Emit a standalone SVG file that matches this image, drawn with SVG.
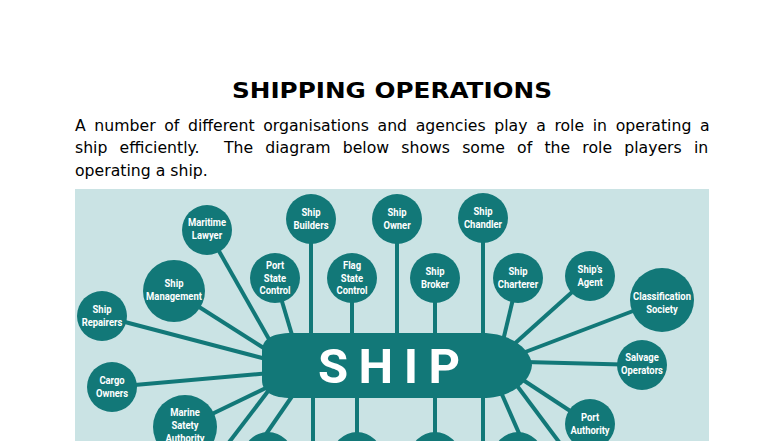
<svg xmlns="http://www.w3.org/2000/svg" width="784" height="441" viewBox="0 0 784 441">
<style>
.title{font-family:"DejaVu Sans",Verdana,sans-serif;font-weight:700;font-size:22px;fill:#000}
.para{font-family:"DejaVu Sans",Verdana,sans-serif;font-size:15.7px;fill:#000}
.node circle{fill:#127878}
.lbl{font-family:Roboto,"Liberation Sans",sans-serif;font-weight:700;font-size:11.5px;fill:#fff;text-anchor:middle}
#connectors line{stroke:#127878;stroke-width:4}
.hull{fill:#127878}
.shiptxt{font-family:Roboto,"Open Sans",sans-serif;font-weight:700;font-size:49px;fill:#fff}
</style>
<rect width="784" height="441" fill="#fff"/>
<text class="title" x="232" y="98" textLength="320" lengthAdjust="spacingAndGlyphs">SHIPPING OPERATIONS</text>
<text class="para" x="75" y="131" word-spacing="3.65">A number of different organisations and agencies play a role in operating a</text>
<text class="para" x="75" y="153" word-spacing="7.2" xml:space="preserve">ship efficiently.  The diagram below shows some of the role players in</text>
<text class="para" x="75" y="176">operating a ship.</text>
<rect x="75" y="189" width="634" height="260" fill="#cae3e4"/>
<g id="connectors">
<line x1="311" y1="219" x2="311" y2="345"/>
<line x1="352" y1="278" x2="352" y2="345"/>
<line x1="397" y1="219" x2="397" y2="345"/>
<line x1="435" y1="278" x2="435" y2="345"/>
<line x1="483" y1="218" x2="483" y2="345"/>
<line x1="207" y1="230" x2="274" y2="348"/>
<line x1="275" y1="278" x2="295" y2="345"/>
<line x1="174" y1="291" x2="270" y2="352"/>
<line x1="102" y1="316" x2="270" y2="360"/>
<line x1="112" y1="387" x2="270" y2="373"/>
<line x1="185" y1="427" x2="272" y2="385"/>
<line x1="272" y1="386" x2="214" y2="462"/>
<line x1="295" y1="392" x2="262" y2="440"/>
<line x1="313" y1="390" x2="313" y2="450"/>
<line x1="357" y1="390" x2="357" y2="457"/>
<line x1="435" y1="390" x2="435" y2="457"/>
<line x1="483" y1="390" x2="483" y2="450"/>
<line x1="500" y1="390" x2="522" y2="440"/>
<line x1="515" y1="383" x2="565" y2="450"/>
<line x1="590" y1="424" x2="520" y2="378"/>
<line x1="642" y1="365" x2="525" y2="362"/>
<line x1="662" y1="300" x2="520" y2="354"/>
<line x1="590" y1="276" x2="512" y2="346"/>
<line x1="518" y1="278" x2="502" y2="345"/>
</g>
<g id="ship">
<path class="hull" d="M292 333 H482 C512 333 531 350 532 365 C531 381 512 398 482 398 H292 C272 398 262 392 262 380 V351 C262 339 272 333 292 333 Z"/>
<text class="shiptxt" x="318" y="383" textLength="142" lengthAdjust="spacing">SHIP</text>
</g>
<g id="maritime-lawyer" class="node" transform="translate(207,230)"><circle r="25"/><text class="lbl" transform="scale(0.82,1)"><tspan x="0" y="-4">Maritime</tspan><tspan x="0" y="9">Lawyer</tspan></text></g>
<g id="ship-builders" class="node" transform="translate(311,219)"><circle r="25"/><text class="lbl" transform="scale(0.82,1)"><tspan x="0" y="-3">Ship</tspan><tspan x="0" y="10">Builders</tspan></text></g>
<g id="ship-owner" class="node" transform="translate(397,219)"><circle r="25"/><text class="lbl" transform="scale(0.82,1)"><tspan x="0" y="-3">Ship</tspan><tspan x="0" y="10">Owner</tspan></text></g>
<g id="ship-chandler" class="node" transform="translate(483,218)"><circle r="25"/><text class="lbl" transform="scale(0.82,1)"><tspan x="0" y="-3">Ship</tspan><tspan x="0" y="10">Chandler</tspan></text></g>
<g id="port-state-control" class="node" transform="translate(275,278)"><circle r="25"/><text class="lbl" transform="scale(0.82,1)"><tspan x="0" y="-9.5">Port</tspan><tspan x="0" y="3.5">State</tspan><tspan x="0" y="16.5">Control</tspan></text></g>
<g id="flag-state-control" class="node" transform="translate(352,278)"><circle r="25"/><text class="lbl" transform="scale(0.82,1)"><tspan x="0" y="-9.5">Flag</tspan><tspan x="0" y="3.5">State</tspan><tspan x="0" y="16.5">Control</tspan></text></g>
<g id="ship-broker" class="node" transform="translate(435,278)"><circle r="25"/><text class="lbl" transform="scale(0.82,1)"><tspan x="0" y="-3">Ship</tspan><tspan x="0" y="10">Broker</tspan></text></g>
<g id="ship-charterer" class="node" transform="translate(518,278)"><circle r="25"/><text class="lbl" transform="scale(0.82,1)"><tspan x="0" y="-3">Ship</tspan><tspan x="0" y="10">Charterer</tspan></text></g>
<g id="ships-agent" class="node" transform="translate(590,276)"><circle r="25"/><text class="lbl" transform="scale(0.82,1)"><tspan x="0" y="-3">Ship’s</tspan><tspan x="0" y="10">Agent</tspan></text></g>
<g id="classification-society" class="node" transform="translate(662,300)"><circle r="32"/><text class="lbl" transform="scale(0.82,1)"><tspan x="0" y="0">Classification</tspan><tspan x="0" y="13">Society</tspan></text></g>
<g id="ship-management" class="node" transform="translate(174,291)"><circle r="31"/><text class="lbl" transform="scale(0.82,1)"><tspan x="0" y="-4">Ship</tspan><tspan x="0" y="9">Management</tspan></text></g>
<g id="ship-repairers" class="node" transform="translate(102,316)"><circle r="25"/><text class="lbl" transform="scale(0.82,1)"><tspan x="0" y="-3">Ship</tspan><tspan x="0" y="10">Repairers</tspan></text></g>
<g id="cargo-owners" class="node" transform="translate(112,387)"><circle r="25"/><text class="lbl" transform="scale(0.82,1)"><tspan x="0" y="-3">Cargo</tspan><tspan x="0" y="10">Owners</tspan></text></g>
<g id="marine-safety-authority" class="node" transform="translate(185,427)"><circle r="32"/><text class="lbl" transform="scale(0.82,1)"><tspan x="0" y="-11">Marine</tspan><tspan x="0" y="2">Satety</tspan><tspan x="0" y="15">Authority</tspan></text></g>
<g id="salvage-operators" class="node" transform="translate(642,365)"><circle r="25"/><text class="lbl" transform="scale(0.82,1)"><tspan x="0" y="-4">Salvage</tspan><tspan x="0" y="9">Operators</tspan></text></g>
<g id="port-authority" class="node" transform="translate(590,424)"><circle r="25"/><text class="lbl" transform="scale(0.82,1)"><tspan x="0" y="-3">Port</tspan><tspan x="0" y="10">Authority</tspan></text></g>
<g id="bottom-node-1" class="node" transform="translate(268,457)"><circle r="25"/></g>
<g id="bottom-node-2" class="node" transform="translate(357,457)"><circle r="25"/></g>
<g id="bottom-node-3" class="node" transform="translate(435,457)"><circle r="25"/></g>
<g id="bottom-node-4" class="node" transform="translate(518,457)"><circle r="25"/></g>
</svg>
